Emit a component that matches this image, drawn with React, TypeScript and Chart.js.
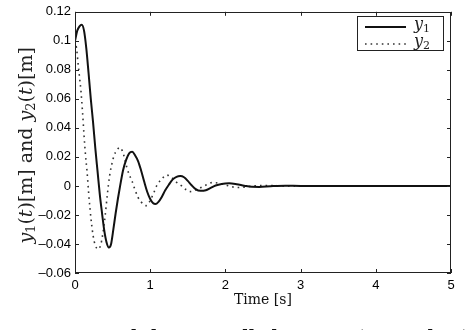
import React, { useEffect, useRef } from "react";
import { Chart, registerables } from "chart.js";

Chart.register(...registerables);

// ---- data ----
const y1Time = [
  0, 0.03, 0.06, 0.09, 0.12, 0.15, 0.18, 0.21, 0.24, 0.27, 0.3, 0.33, 0.36, 0.39, 0.42, 0.45,
  0.48, 0.51, 0.54, 0.57, 0.6, 0.64, 0.68, 0.72, 0.76, 0.8, 0.84, 0.88, 0.92, 0.96, 1.0, 1.04,
  1.07, 1.11, 1.15, 1.2, 1.25, 1.3, 1.35, 1.4, 1.45, 1.5, 1.55, 1.6, 1.67, 1.74, 1.8, 1.87,
  1.95, 2.05, 2.15, 2.25, 2.35, 2.45, 2.6, 2.8, 3.0, 3.5, 4.0, 4.5, 5.0,
];
const y1Values = [
  0.1, 0.107, 0.11, 0.111, 0.107, 0.095, 0.078, 0.06, 0.044, 0.026, 0.01, -0.006, -0.019,
  -0.031, -0.039, -0.0425, -0.04, -0.03, -0.019, -0.009, 0.0, 0.011, 0.018, 0.0225, 0.0235,
  0.021, 0.017, 0.0105, 0.003, -0.004, -0.009, -0.012, -0.0125, -0.011, -0.008, -0.003, 0.001,
  0.0045, 0.0063, 0.0068, 0.006, 0.0035, 0.0005, -0.002, -0.0034, -0.003, -0.0015, 0.0003,
  0.0014, 0.0018, 0.0012, 0.0002, -0.0006, -0.0007, -0.0002, 0.0002, 0.0, 0.0, 0.0, 0.0, 0.0,
];
const y2Time = [
  0, 0.02, 0.04, 0.06, 0.08, 0.1, 0.12, 0.14, 0.16, 0.18, 0.2, 0.22, 0.24, 0.27, 0.31, 0.34,
  0.37, 0.4, 0.43, 0.46, 0.49, 0.52, 0.56, 0.6, 0.63, 0.66, 0.69, 0.72, 0.76, 0.8, 0.84, 0.88,
  0.92, 0.95, 0.99, 1.04, 1.09, 1.15, 1.22, 1.28, 1.35, 1.42, 1.47, 1.53, 1.6, 1.69, 1.75,
  1.82, 1.9, 1.98, 2.08, 2.16, 2.25, 2.35, 2.45, 2.6, 2.8, 3.0,
];
const y2Values = [
  0.1, 0.095, 0.085, 0.075, 0.065, 0.051, 0.035, 0.021, 0.01, -0.004, -0.016, -0.026, -0.034,
  -0.041, -0.0435, -0.041, -0.033, -0.021, -0.006, 0.007, 0.015, 0.021, 0.025, 0.0265, 0.024,
  0.019, 0.0125, 0.008, 0.003, -0.003, -0.008, -0.011, -0.013, -0.0136, -0.011, -0.0057,
  0.0005, 0.0045, 0.0075, 0.006, 0.0025, 0.0, -0.0023, -0.0039, -0.003, -0.0007, 0.0008,
  0.0023, 0.002, 0.001, -0.0005, -0.0011, -0.0008, -0.0002, 0.0003, 0.0003, 0.0, 0.0,
];
const seriesNames = ["1", "2"]; // subscripts of y
const xMin = 0;
const xMax = 5;
const xStep = 1;
const yMin = -0.06;
const yMax = 0.12;
const yStep = 0.02;
const xTitle = "Time [s]";
const captionText = "and the controlled system (Example 3) with d";

const serif = "'DejaVu Serif', 'Liberation Serif', serif";
const sans = "'Liberation Sans', Arial, sans-serif";

function formatY(v: number): string {
  const s = String(Number(v.toFixed(2)));
  return s.replace("-", "\u2013");
}

type Seg = { t: string; italic?: boolean; sub?: boolean };

function drawSegs(ctx: CanvasRenderingContext2D, segs: Seg[], size: number, x: number, y: number, align: "left" | "center") {
  const fontFor = (s: Seg) =>
    `${s.italic ? "italic " : ""}${s.sub ? Math.round(size * 0.7) : size}px ${serif}`;
  let total = 0;
  for (const s of segs) {
    ctx.font = fontFor(s);
    total += ctx.measureText(s.t).width;
  }
  let cx = align === "center" ? x - total / 2 : x;
  ctx.textAlign = "left";
  ctx.textBaseline = "middle";
  for (const s of segs) {
    ctx.font = fontFor(s);
    ctx.fillText(s.t, cx, s.sub ? y + size * 0.25 : y);
    cx += ctx.measureText(s.t).width;
  }
}

const decorPlugin = {
  id: "decor",
  afterDraw(chart: any) {
    const { ctx, chartArea, scales } = chart;
    const { left, right, top, bottom } = chartArea;
    const xs = scales.x;
    const ys = scales.y;
    ctx.save();
    ctx.strokeStyle = "#222";
    ctx.lineWidth = 1;
    // frame
    ctx.strokeRect(Math.round(left) + 0.5, Math.round(top) + 0.5, Math.round(right - left) - 1, Math.round(bottom - top) - 1);
    // inward ticks
    const tl = 4;
    ctx.beginPath();
    for (const t of xs.ticks) {
      const px = Math.round(xs.getPixelForValue(t.value)) + 0.5;
      ctx.moveTo(px, bottom);
      ctx.lineTo(px, bottom - tl);
      ctx.moveTo(px, top);
      ctx.lineTo(px, top + tl);
    }
    for (const t of ys.ticks) {
      const py = Math.round(ys.getPixelForValue(t.value)) + 0.5;
      ctx.moveTo(left, py);
      ctx.lineTo(left + tl, py);
      ctx.moveTo(right, py);
      ctx.lineTo(right - tl, py);
    }
    ctx.stroke();

    // y axis title (rotated, mixed italic)
    ctx.save();
    ctx.fillStyle = "#222";
    ctx.translate(27, (top + bottom) / 2 + 3);
    ctx.rotate(-Math.PI / 2);
    drawSegs(
      ctx,
      [
        { t: "y", italic: true },
        { t: seriesNames[0], sub: true },
        { t: "(" },
        { t: "t", italic: true },
        { t: ")[m] and " },
        { t: "y", italic: true },
        { t: seriesNames[1], sub: true },
        { t: "(" },
        { t: "t", italic: true },
        { t: ")[m]" },
      ],
      19,
      0,
      0,
      "center"
    );
    ctx.restore();

    // legend box
    const bw = 86;
    const bh = 34;
    const bx = Math.round(right - 8 - bw);
    const by = Math.round(top + 4);
    ctx.fillStyle = "#fff";
    ctx.fillRect(bx, by, bw, bh);
    ctx.strokeStyle = "#222";
    ctx.strokeRect(bx + 0.5, by + 0.5, bw, bh);
    chart.data.datasets.forEach((ds: any, i: number) => {
      const ly = by + 11 + i * 17;
      ctx.save();
      ctx.strokeStyle = ds.borderColor;
      ctx.lineWidth = ds.borderWidth;
      ctx.setLineDash(ds.borderDash || []);
      ctx.beginPath();
      ctx.moveTo(bx + 8, ly);
      ctx.lineTo(bx + 49, ly);
      ctx.stroke();
      ctx.restore();
      ctx.fillStyle = "#222";
      drawSegs(ctx, [{ t: "y", italic: true }, { t: seriesNames[i], sub: true }], 16, bx + 57, ly - 2, "left");
    });
    ctx.restore();
  },
};

export default function App() {
  const ref = useRef<HTMLCanvasElement | null>(null);

  useEffect(() => {
    document.body.style.margin = "0";
    const canvas = ref.current;
    if (!canvas) return;
    const chart = new Chart(canvas, {
      type: "line",
      data: {
        datasets: [
          {
            label: "y1",
            data: y1Time.map((t, i) => ({ x: t, y: y1Values[i] })),
            borderColor: "#111",
            borderWidth: 2,
            pointRadius: 0,
            cubicInterpolationMode: "monotone",
            fill: false,
            order: 1,
          },
          {
            label: "y2",
            data: y2Time.map((t, i) => ({ x: t, y: y2Values[i] })),
            borderColor: "#333",
            borderWidth: 1.6,
            borderDash: [1.6, 4],
            pointRadius: 0,
            cubicInterpolationMode: "monotone",
            fill: false,
            order: 2,
          },
        ],
      },
      options: {
        animation: false,
        responsive: false,
        maintainAspectRatio: false,
        layout: { padding: { left: 0, right: 23, top: 9, bottom: 0 } },
        plugins: { legend: { display: false }, tooltip: { enabled: false } },
        scales: {
          x: {
            type: "linear",
            min: xMin,
            max: xMax,
            grid: { display: false, drawTicks: false, tickLength: 0 },
            border: { display: false },
            ticks: {
              stepSize: xStep,
              padding: 5,
              color: "#000",
              font: { family: sans, size: 13 },
              maxRotation: 0,
            },
            title: {
              display: true,
              text: xTitle,
              color: "#111",
              font: { family: serif, size: 14 },
              padding: { top: 0, bottom: 21 },
            },
            afterFit: (s: any) => {
              s.height = 57;
            },
          },
          y: {
            type: "linear",
            min: yMin,
            max: yMax,
            grid: { display: false, drawTicks: false, tickLength: 0 },
            border: { display: false },
            ticks: {
              stepSize: yStep,
              padding: 4,
              color: "#000",
              font: { family: sans, size: 13 },
              callback: (v: any) => formatY(Number(v)),
            },
            afterFit: (s: any) => {
              s.width = 75;
            },
          },
        },
      },
      plugins: [decorPlugin],
    } as any);
    return () => chart.destroy();
  }, []);

  return (
    <div style={{ position: "relative", width: 474, height: 330, overflow: "hidden", background: "#fff" }}>
      <canvas ref={ref} width={474} height={330} style={{ display: "block", width: 474, height: 330 }} />
      <div
        style={{
          position: "absolute",
          left: 102,
          top: 326,
          whiteSpace: "nowrap",
          font: `bold 17px ${serif}`,
          lineHeight: "20px",
          color: "#111",
        }}
      >
        {captionText}
      </div>
    </div>
  );
}
